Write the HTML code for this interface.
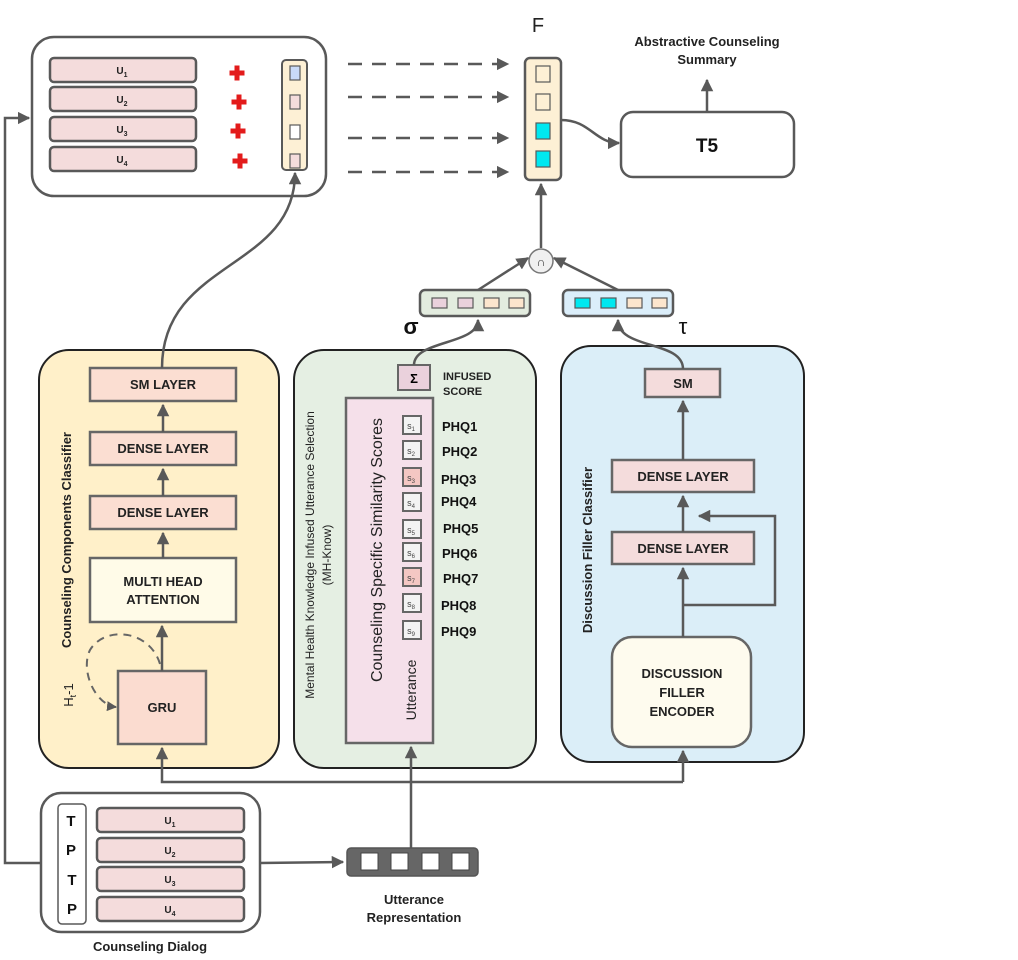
<!DOCTYPE html>
<html><head><meta charset="utf-8"><style>body{margin:0;background:#fff}svg{display:block}text{font-family:"Liberation Sans",sans-serif}</style></head><body>
<svg width="1018" height="960" viewBox="0 0 1018 960" xmlns="http://www.w3.org/2000/svg">
<defs>
<marker id="a" viewBox="0 0 10 10" refX="9" refY="5" markerWidth="5" markerHeight="5" orient="auto"><path d="M0,0L10,5L0,10z" fill="#595959"/></marker>
<path id="pl" d="M-2.5,-7.5h5v5h5v5h-5v5h-5v-5h-5v-5h5z" fill="#e31b1b"/>
</defs>
<g stroke="#595959" stroke-width="2.5" fill="none">
<rect x="32" y="37" width="294" height="159" rx="22" fill="#fff"/>
</g>
<g stroke="#595959" stroke-width="2.5">
<rect x="50" y="58" width="146" height="24" rx="4" fill="#f4dcdc"/>
<rect x="50" y="87" width="146" height="24" rx="4" fill="#f4dcdc"/>
<rect x="50" y="117" width="146" height="24" rx="4" fill="#f4dcdc"/>
<rect x="50" y="147" width="146" height="24" rx="4" fill="#f4dcdc"/>
<rect x="282" y="60" width="25" height="110" rx="4" fill="#fdf0d5" stroke-width="2"/>
</g>
<g stroke="#595959" stroke-width="1.2">
<rect x="290" y="66" width="10" height="14" fill="#c9daf8"/>
<rect x="290" y="95" width="10" height="14" fill="#f4dcdc"/>
<rect x="290" y="125" width="10" height="14" fill="#fff"/>
<rect x="290" y="154" width="10" height="14" fill="#f4dcdc"/>
</g>
<g font-size="10" font-weight="bold" text-anchor="middle" fill="#222">
<text x="122" y="74">U<tspan font-size="7" dy="3">1</tspan></text>
<text x="122" y="103">U<tspan font-size="7" dy="3">2</tspan></text>
<text x="122" y="133">U<tspan font-size="7" dy="3">3</tspan></text>
<text x="122" y="163">U<tspan font-size="7" dy="3">4</tspan></text>
</g>
<use href="#pl" x="237" y="73"/><use href="#pl" x="239" y="102"/><use href="#pl" x="238" y="131"/><use href="#pl" x="240" y="161"/>
<g stroke="#595959" stroke-width="2.5" stroke-dasharray="14,10" marker-end="url(#a)">
<line x1="348" y1="64" x2="508" y2="64"/><line x1="348" y1="97" x2="508" y2="97"/>
<line x1="348" y1="138" x2="508" y2="138"/><line x1="348" y1="172" x2="508" y2="172"/>
</g>
<text x="538" y="32" font-size="20" text-anchor="middle" fill="#222">F</text>
<rect x="525" y="58" width="36" height="122" rx="5" fill="#fdf0d5" stroke="#595959" stroke-width="2.5"/>
<g stroke="#595959" stroke-width="1.2">
<rect x="536" y="66" width="14" height="16" fill="#fdf0d5"/>
<rect x="536" y="94" width="14" height="16" fill="#fdf0d5"/>
<rect x="536" y="123" width="14" height="16" fill="#00e8f0"/>
<rect x="536" y="151" width="14" height="16" fill="#00e8f0"/>
</g>
<rect x="621" y="112" width="173" height="65" rx="12" fill="#fff" stroke="#595959" stroke-width="2.5"/>
<text x="707" y="152" font-size="19" font-weight="bold" text-anchor="middle" fill="#111">T5</text>
<g font-size="13" font-weight="bold" text-anchor="middle" fill="#222">
<text x="707" y="46">Abstractive Counseling</text><text x="707" y="64">Summary</text>
</g>
<g stroke="#595959" stroke-width="2.5" fill="none" marker-end="url(#a)">
<line x1="707" y1="112" x2="707" y2="80"/>
<path d="M561,120 C590,120 595,143 619,143"/>
<line x1="541" y1="248" x2="541" y2="184"/>
<line x1="478" y1="290" x2="528" y2="258"/>
<line x1="618" y1="290" x2="554" y2="258"/>
</g>
<circle cx="541" cy="261" r="12" fill="#f0f0f0" stroke="#777" stroke-width="1.5"/>
<text x="541" y="266" font-size="12" text-anchor="middle" fill="#333">∩</text>
<rect x="420" y="290" width="110" height="26" rx="5" fill="#e3ecdf" stroke="#595959" stroke-width="2.5"/>
<rect x="563" y="290" width="110" height="26" rx="5" fill="#dbeefa" stroke="#595959" stroke-width="2.5"/>
<g stroke="#595959" stroke-width="1.2">
<rect x="432" y="298" width="15" height="10" fill="#ead1dc"/><rect x="458" y="298" width="15" height="10" fill="#ead1dc"/>
<rect x="484" y="298" width="15" height="10" fill="#fce5cd"/><rect x="509" y="298" width="15" height="10" fill="#fce5cd"/>
<rect x="575" y="298" width="15" height="10" fill="#00e8f0"/><rect x="601" y="298" width="15" height="10" fill="#00e8f0"/>
<rect x="627" y="298" width="15" height="10" fill="#fce5cd"/><rect x="652" y="298" width="15" height="10" fill="#fce5cd"/>
</g>
<text x="411" y="334" font-size="22" font-weight="bold" text-anchor="middle" fill="#111">σ</text>
<text x="683" y="334" font-size="22" text-anchor="middle" fill="#111">τ</text>
<rect x="39" y="350" width="240" height="418" rx="30" fill="#fff0c9" stroke="#222" stroke-width="2"/>
<g stroke="#666" stroke-width="2.5">
<rect x="90" y="368" width="146" height="33" fill="#fbded2"/>
<rect x="90" y="432" width="146" height="33" fill="#fbded2"/>
<rect x="90" y="496" width="146" height="33" fill="#fbded2"/>
<rect x="90" y="558" width="146" height="64" fill="#fffbe8"/>
<rect x="118" y="671" width="88" height="73" fill="#fbdcd0"/>
</g>
<g font-size="13" font-weight="bold" text-anchor="middle" fill="#222">
<text x="163" y="389">SM LAYER</text><text x="163" y="453">DENSE LAYER</text><text x="163" y="517">DENSE LAYER</text>
<text x="163" y="586">MULTI HEAD</text><text x="163" y="604">ATTENTION</text><text x="162" y="712">GRU</text>
</g>
<text transform="translate(71,540) rotate(-90)" font-size="13" font-weight="bold" text-anchor="middle" fill="#222">Counseling Components Classifier</text>
<text transform="translate(73,695) rotate(-90)" font-size="13" text-anchor="middle" fill="#222">H<tspan font-size="9" dy="3">t</tspan><tspan dy="-3">-1</tspan></text>
<path d="M160,664 C150,630 105,625 90,650 C80,670 95,705 116,707" stroke="#666" stroke-width="2" fill="none" stroke-dasharray="8,6" marker-end="url(#a)"/>
<g stroke="#595959" stroke-width="2.5" fill="none" marker-end="url(#a)">
<line x1="163" y1="432" x2="163" y2="405"/><line x1="163" y1="496" x2="163" y2="469"/>
<line x1="163" y1="558" x2="163" y2="533"/><line x1="162" y1="671" x2="162" y2="626"/>
<path d="M162,368 C162,260 295,270 295,173"/>
</g>
<rect x="294" y="350" width="242" height="418" rx="30" fill="#e5efe3" stroke="#222" stroke-width="2"/>
<rect x="398" y="365" width="32" height="25" fill="#ead1dc" stroke="#666" stroke-width="2"/>
<text x="414" y="383" font-size="13" font-weight="bold" text-anchor="middle">Σ</text>
<g font-size="11" font-weight="bold" fill="#222"><text x="443" y="380">INFUSED</text><text x="443" y="395">SCORE</text></g>
<rect x="346" y="398" width="87" height="345" fill="#f5e0ea" stroke="#666" stroke-width="2.5"/>
<g stroke="#666" stroke-width="2" fill="#f3f3f3">
<rect x="403" y="416" width="18" height="18"/><rect x="403" y="441" width="18" height="18"/>
<rect x="403" y="468" width="18" height="18" fill="#f4c7c3"/><rect x="403" y="493" width="18" height="18"/>
<rect x="403" y="520" width="18" height="18"/><rect x="403" y="543" width="18" height="18"/>
<rect x="403" y="568" width="18" height="18" fill="#f4c7c3"/><rect x="403" y="594" width="18" height="18"/>
<rect x="403" y="621" width="18" height="18"/>
</g>
<g font-size="9" fill="#444" text-anchor="middle">
<text x="411" y="429">s<tspan font-size="6" dy="2">1</tspan></text><text x="411" y="454">s<tspan font-size="6" dy="2">2</tspan></text>
<text x="411" y="481">s<tspan font-size="6" dy="2">3</tspan></text><text x="411" y="506">s<tspan font-size="6" dy="2">4</tspan></text>
<text x="411" y="533">s<tspan font-size="6" dy="2">5</tspan></text><text x="411" y="556">s<tspan font-size="6" dy="2">6</tspan></text>
<text x="411" y="581">s<tspan font-size="6" dy="2">7</tspan></text><text x="411" y="607">s<tspan font-size="6" dy="2">8</tspan></text>
<text x="411" y="634">s<tspan font-size="6" dy="2">9</tspan></text>
</g>
<g font-size="13" font-weight="bold" fill="#111">
<text x="442" y="431">PHQ1</text><text x="442" y="456">PHQ2</text><text x="441" y="484">PHQ3</text>
<text x="441" y="506">PHQ4</text><text x="443" y="533">PHQ5</text><text x="442" y="558">PHQ6</text>
<text x="443" y="583">PHQ7</text><text x="441" y="610">PHQ8</text><text x="441" y="636">PHQ9</text>
</g>
<text transform="translate(382,550) rotate(-90)" font-size="16" text-anchor="middle" fill="#222">Counseling Specific Similarity Scores</text>
<text transform="translate(416,690) rotate(-90)" font-size="14" text-anchor="middle" fill="#222">Utterance</text>
<text transform="translate(314,555) rotate(-90)" font-size="12" text-anchor="middle" fill="#222">Mental Health Knowledge Infused Utterance Selection</text>
<text transform="translate(331,555) rotate(-90)" font-size="12" text-anchor="middle" fill="#222">(MH-Know)</text>
<path d="M414,365 C414,340 478,345 478,320" stroke="#595959" stroke-width="2.5" fill="none" marker-end="url(#a)"/>
<rect x="561" y="346" width="243" height="416" rx="30" fill="#dbeef8" stroke="#222" stroke-width="2"/>
<g stroke="#666" stroke-width="2.5">
<rect x="645" y="369" width="75" height="28" fill="#f4dcdc"/>
<rect x="612" y="460" width="142" height="32" fill="#f4dcdc"/>
<rect x="612" y="532" width="142" height="32" fill="#f4dcdc"/>
<rect x="612" y="637" width="139" height="110" rx="20" fill="#fefbee"/>
</g>
<g font-size="13" font-weight="bold" text-anchor="middle" fill="#222">
<text x="683" y="388">SM</text><text x="683" y="481">DENSE LAYER</text><text x="683" y="553">DENSE LAYER</text>
<text x="682" y="678">DISCUSSION</text><text x="682" y="697">FILLER</text><text x="682" y="716">ENCODER</text>
</g>
<text transform="translate(592,550) rotate(-90)" font-size="13" font-weight="bold" text-anchor="middle" fill="#222">Discussion Filler Classifier</text>
<g stroke="#595959" stroke-width="2.5" fill="none" marker-end="url(#a)">
<line x1="683" y1="460" x2="683" y2="401"/><line x1="683" y1="532" x2="683" y2="496"/>
<line x1="683" y1="637" x2="683" y2="568"/>
<polyline points="683,605 775,605 775,516 699,516"/>
<path d="M683,369 C683,340 618,350 618,320"/>
</g>
<g stroke="#595959" stroke-width="2.5" fill="none" marker-end="url(#a)">
<polyline points="683,782 162,782 162,748"/>
<line x1="683" y1="782" x2="683" y2="751"/>
<line x1="411" y1="848" x2="411" y2="747"/>
<line x1="260" y1="863" x2="343" y2="862"/>
<polyline points="41,863 5,863 5,118 29,118"/>
</g>
<rect x="41" y="793" width="219" height="139" rx="20" fill="#fff" stroke="#595959" stroke-width="2.5"/>
<rect x="58" y="804" width="28" height="120" rx="4" fill="#fff" stroke="#595959" stroke-width="1.5"/>
<g font-size="15" font-weight="bold" text-anchor="middle" fill="#111">
<text x="71" y="826">T</text><text x="71" y="855">P</text><text x="72" y="885">T</text><text x="72" y="914">P</text>
</g>
<g stroke="#595959" stroke-width="2.5" fill="#f4dcdc">
<rect x="97" y="808" width="147" height="24" rx="4"/><rect x="97" y="838" width="147" height="24" rx="4"/>
<rect x="97" y="867" width="147" height="24" rx="4"/><rect x="97" y="897" width="147" height="24" rx="4"/>
</g>
<g font-size="10" font-weight="bold" text-anchor="middle" fill="#222">
<text x="170" y="824">U<tspan font-size="7" dy="3">1</tspan></text><text x="170" y="854">U<tspan font-size="7" dy="3">2</tspan></text>
<text x="170" y="883">U<tspan font-size="7" dy="3">3</tspan></text><text x="170" y="913">U<tspan font-size="7" dy="3">4</tspan></text>
</g>
<text x="150" y="951" font-size="13" font-weight="bold" text-anchor="middle" fill="#222">Counseling Dialog</text>
<rect x="347" y="848" width="131" height="28" rx="4" fill="#666" stroke="#555" stroke-width="1.5"/>
<g fill="#fff" stroke="#444" stroke-width="1">
<rect x="361" y="853" width="17" height="17"/><rect x="391" y="853" width="17" height="17"/>
<rect x="422" y="853" width="17" height="17"/><rect x="452" y="853" width="17" height="17"/>
</g>
<g font-size="13" font-weight="bold" text-anchor="middle" fill="#222">
<text x="414" y="904">Utterance</text><text x="414" y="922">Representation</text>
</g>
</svg>
</body></html>
